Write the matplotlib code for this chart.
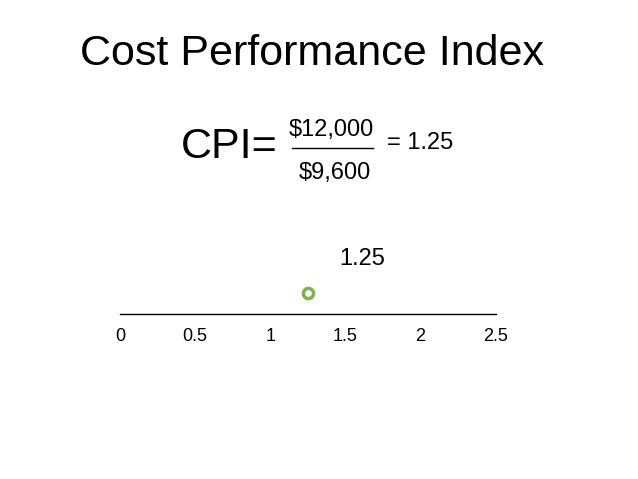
import matplotlib
matplotlib.use('Agg')
import matplotlib.pyplot as plt

plt.rcParams['font.family'] = ['Liberation Sans', 'DejaVu Sans']

titulo = 'Cost Performance Index'
valor_agregado = '$12,000'
custo_real = '$9,600'
cpi = 1.25
ticks = [0, 0.5, 1, 1.5, 2, 2.5]
tick_labels = ['0', '0.5', '1', '1.5', '2', '2.5']

verde = '#78b545'

fig = plt.figure(figsize=(6.38, 4.79), dpi=100)

# título e fórmula ficam em coordenadas da figura
fig.text(0.489, 0.888, titulo, ha='center', va='center', fontsize=31)
fig.text(0.283, 0.694, 'CPI=', ha='left', va='center', fontsize=31)
fig.text(0.520, 0.729, valor_agregado.replace('$', r'\$'), ha='center', va='center', fontsize=17)
fig.text(0.525, 0.639, custo_real.replace('$', r'\$'), ha='center', va='center', fontsize=17)
fig.add_artist(plt.Line2D([0.457, 0.585], [0.691, 0.691], color='black', lw=1.0))
fig.text(0.607, 0.702, '= %.2f' % cpi, ha='left', va='center', fontsize=17)

# linha numérica
ax = fig.add_axes([0.188, 0.3445, 0.589, 0.155])
ax.set_xlim(ticks[0], ticks[-1])
ax.set_ylim(0, 1)
ax.plot([cpi], [0.284], 'o', ms=7.3, mfc='white', mec=verde, mew=2.5, clip_on=False)
ax.annotate('%.2f' % cpi, xy=(cpi, 0.284), xytext=(54, 34), textcoords='offset pixels',
            ha='center', va='center', fontsize=17)

for lado in ['top', 'left', 'right']:
    ax.spines[lado].set_visible(False)
ax.spines['bottom'].set_linewidth(1.0)
ax.set_yticks([])
ax.set_xticks(ticks)
ax.set_xticklabels(tick_labels, fontsize=13)
ax.tick_params(axis='x', length=0, pad=10)

fig.savefig('out.png', dpi=100)
